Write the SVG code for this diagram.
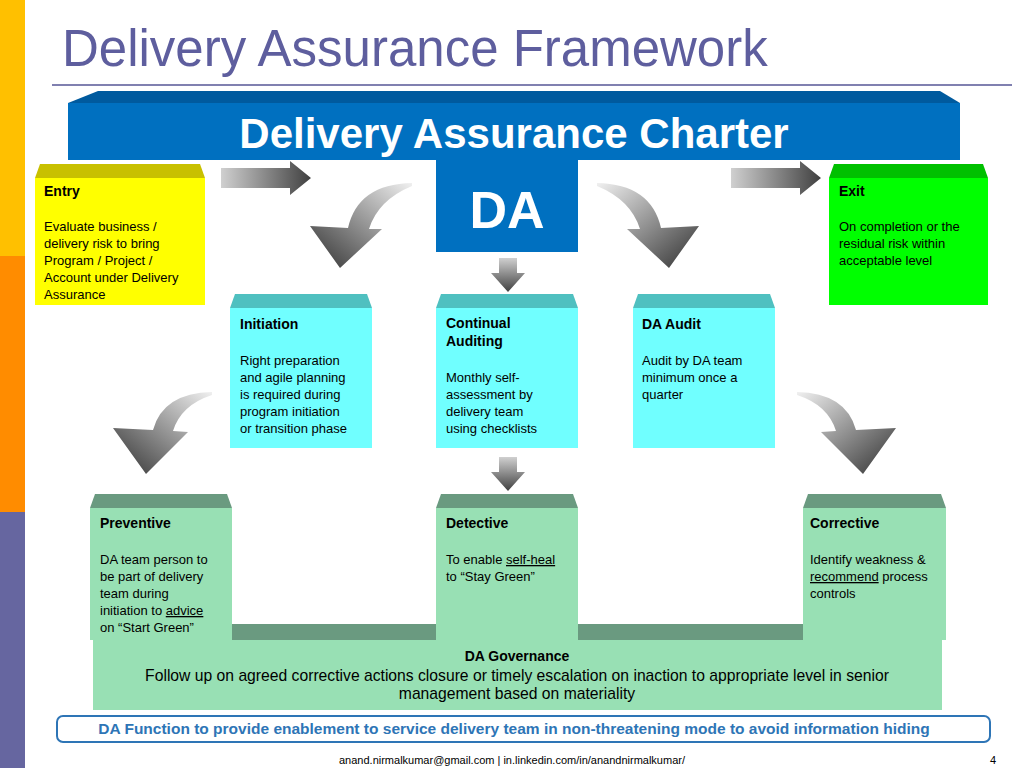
<svg xmlns="http://www.w3.org/2000/svg" width="1024" height="768" viewBox="0 0 1024 768">
<style>
text{font-family:"Liberation Sans",Arial,sans-serif;fill:#000}
.h{font-weight:bold;font-size:14px}
.b{font-size:13px}
.u{text-decoration:underline}
</style>
<defs>
<linearGradient id="ga" x1="0" y1="0" x2="1" y2="0"><stop offset="0" stop-color="#d0d0d0"/><stop offset="1" stop-color="#404040"/></linearGradient>
<linearGradient id="gd" x1="0" y1="0" x2="0" y2="1"><stop offset="0" stop-color="#d0d0d0"/><stop offset="1" stop-color="#404040"/></linearGradient>
<linearGradient id="gl" x1="1" y1="0" x2="0" y2="1"><stop offset="0" stop-color="#f0f0f0"/><stop offset="1" stop-color="#303030"/></linearGradient>
<linearGradient id="gr" x1="0" y1="0" x2="1" y2="1"><stop offset="0" stop-color="#f0f0f0"/><stop offset="1" stop-color="#303030"/></linearGradient>
</defs>
<rect width="1024" height="768" fill="#fff"/>
<rect x="0" y="0" width="25" height="256" fill="#FFC000"/>
<rect x="0" y="256" width="25" height="256" fill="#FF8C00"/>
<rect x="0" y="512" width="25" height="256" fill="#6666A0"/>
<text x="62" y="66" style="font-size:51px;fill:#5E5E9E">Delivery Assurance Framework</text>
<line x1="52" y1="85" x2="1012" y2="85" stroke="#8080B0" stroke-width="2"/>

<g id="charter">
<polygon points="68,103 98,91 940,91 960,103" fill="#005A9E"/>
<rect x="68" y="103" width="892" height="57" fill="#0070C0"/>
<text x="514" y="148" text-anchor="middle" style="font-size:42px;font-weight:bold;fill:#fff">Delivery Assurance Charter</text>
</g>
<g id="da">
<rect x="436" y="160" width="142" height="92" fill="#0070C0"/>
<text x="507" y="228" text-anchor="middle" style="font-size:52px;font-weight:bold;fill:#fff">DA</text>
</g>

<g id="entry">
<polygon points="35,178 40,164 200,164 205,178" fill="#C8C000"/>
<rect x="35" y="178" width="170" height="127" fill="#FFFF00"/>
<text x="44" y="196" class="h">Entry</text>
<text class="b"><tspan x="44" y="231">Evaluate business /</tspan><tspan x="44" y="248">delivery risk to bring</tspan><tspan x="44" y="265">Program / Project /</tspan><tspan x="44" y="282">Account under Delivery</tspan><tspan x="44" y="299">Assurance</tspan></text>
</g>
<g id="exit">
<polygon points="829,178 834,164 983,164 988,178" fill="#00C000"/>
<rect x="829" y="178" width="159" height="127" fill="#00FF00"/>
<text x="839" y="196" class="h">Exit</text>
<text class="b"><tspan x="839" y="231">On completion or the</tspan><tspan x="839" y="248">residual risk within</tspan><tspan x="839" y="265">acceptable level</tspan></text>
</g>

<g id="initiation">
<polygon points="230,308 235,294 367,294 372,308" fill="#4FC0C0"/>
<rect x="230" y="308" width="142" height="140" fill="#70FFFF"/>
<text x="240" y="329" class="h">Initiation</text>
<text class="b"><tspan x="240" y="365">Right preparation</tspan><tspan x="240" y="382">and agile planning</tspan><tspan x="240" y="399">is required during</tspan><tspan x="240" y="416">program initiation</tspan><tspan x="240" y="433">or transition phase</tspan></text>
</g>
<g id="continual">
<polygon points="436,308 441,294 573,294 578,308" fill="#4FC0C0"/>
<rect x="436" y="308" width="142" height="140" fill="#70FFFF"/>
<text class="h"><tspan x="446" y="328">Continual</tspan><tspan x="446" y="346">Auditing</tspan></text>
<text class="b"><tspan x="446" y="382">Monthly self-</tspan><tspan x="446" y="399">assessment by</tspan><tspan x="446" y="416">delivery team</tspan><tspan x="446" y="433">using checklists</tspan></text>
</g>
<g id="audit">
<polygon points="633,308 638,294 770,294 775,308" fill="#4FC0C0"/>
<rect x="633" y="308" width="142" height="140" fill="#70FFFF"/>
<text x="642" y="329" class="h">DA Audit</text>
<text class="b"><tspan x="642" y="365">Audit by DA team</tspan><tspan x="642" y="382">minimum once a</tspan><tspan x="642" y="399">quarter</tspan></text>
</g>

<g id="governance">
<rect x="232" y="624" width="571" height="17" fill="#6A9A80"/>
<rect x="93" y="640" width="849" height="70" fill="#98E0B4"/>
<text x="517" y="661" text-anchor="middle" class="h">DA Governance</text>
<text text-anchor="middle" style="font-size:15.7px"><tspan x="517" y="681">Follow up on agreed corrective actions closure or  timely escalation on inaction to appropriate level in senior</tspan><tspan x="517" y="699">management based on materiality</tspan></text>
</g>
<g id="preventive">
<polygon points="90,508 95,494 227,494 232,508" fill="#6A9A80"/>
<rect x="90" y="508" width="142" height="132" fill="#98E0B4"/>
<text x="100" y="528" class="h">Preventive</text>
<text class="b"><tspan x="100" y="564">DA team person to</tspan><tspan x="100" y="581">be part of delivery</tspan><tspan x="100" y="598">team during</tspan><tspan x="100" y="615">initiation to <tspan class="u">advice</tspan></tspan><tspan x="100" y="632">on “Start Green”</tspan></text>
</g>
<g id="detective">
<polygon points="436,508 441,494 573,494 578,508" fill="#6A9A80"/>
<rect x="436" y="508" width="142" height="132" fill="#98E0B4"/>
<text x="446" y="528" class="h">Detective</text>
<text class="b"><tspan x="446" y="564">To enable <tspan class="u">self-heal</tspan></tspan><tspan x="446" y="581">to “Stay Green”</tspan></text>
</g>
<g id="corrective">
<polygon points="803,508 808,494 941,494 946,508" fill="#6A9A80"/>
<rect x="803" y="508" width="143" height="132" fill="#98E0B4"/>
<text x="810" y="528" class="h">Corrective</text>
<text class="b"><tspan x="810" y="564">Identify weakness &amp;</tspan><tspan x="810" y="581"><tspan class="u">recommend</tspan> process</tspan><tspan x="810" y="598">controls</tspan></text>
</g>

<g id="connectors">
<polygon points="221,168 290,168 290,161 311,178 290,195 290,188 221,188" fill="url(#ga)"/>
<polygon points="731,168 800,168 800,161 821,178 800,195 800,188 731,188" fill="url(#ga)"/>
<path d="M412,183 Q358,184 348,228 L310,226 L340,268 L382,229 L369,229 Q378,200 412,186 Z" fill="url(#gl)"/>
<path d="M597,183 Q651,184 661,228 L699,226 L669,268 L627,229 L640,229 Q631,200 597,186 Z" fill="url(#gr)"/>
<path d="M212,392 Q163,393 153,430 L113,428 L146,474 L188,432 L173,431 Q181,405 212,395 Z" fill="url(#gl)"/>
<path d="M797,392 Q846,393 856,430 L896,428 L863,474 L821,432 L836,431 Q828,405 797,395 Z" fill="url(#gr)"/>
<polygon points="499,258 517,258 517,273 525,273 508,292 491,273 499,273" fill="url(#gd)"/>
<polygon points="499,457 517,457 517,472 525,472 508,491 491,472 499,472" fill="url(#gd)"/>
</g>

<rect x="57" y="716" width="933" height="26" rx="6" fill="#fff" stroke="#2E75B6" stroke-width="2"/>
<text x="514" y="734" text-anchor="middle" style="font-size:15.5px;font-weight:bold;fill:#2E75B6">DA Function to provide enablement to service delivery team in non-threatening mode to avoid information hiding</text>
<text x="512" y="764" text-anchor="middle" style="font-size:11px">anand.nirmalkumar@gmail.com | in.linkedin.com/in/anandnirmalkumar/</text>
<text x="990" y="764" style="font-size:11px">4</text>
</svg>
